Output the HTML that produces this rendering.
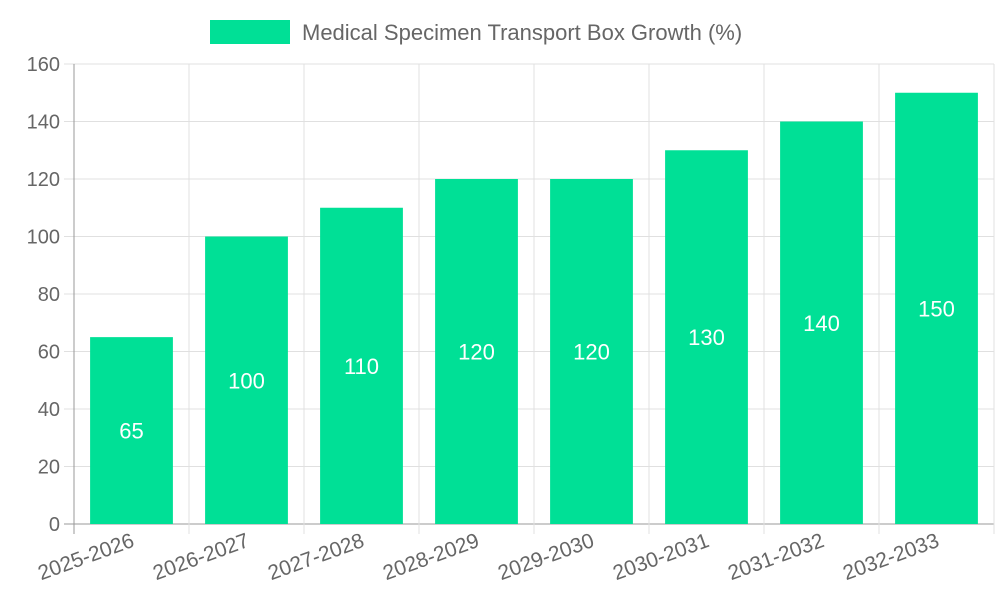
<!DOCTYPE html>
<html><head><meta charset="utf-8"><style>
body{margin:0;background:#fff;}
svg{font-family:"Liberation Sans",sans-serif;display:block}
</style></head><body>
<svg id="chart" width="1000" height="600">
<g id="legend">
<rect x="210" y="20" width="80" height="24" fill="#00e096"></rect>
<text x="302" y="40" font-size="22" fill="#666">Medical Specimen Transport Box Growth (%)</text>
</g>
<g id="grid"></g><g id="bars"></g><g id="labels"></g>
</svg>
<script>
const categories=["2025-2026","2026-2027","2027-2028","2028-2029","2029-2030","2030-2031","2031-2032","2032-2033"];
const values=[65,100,110,120,120,130,140,150];
const yTicks=[0,20,40,60,80,100,120,140,160];
const NS="http://www.w3.org/2000/svg";
const L=74,R=994,T=64,B=524,yMax=160;
const bw=(R-L)/categories.length;
const y=v=>B-(v/yMax)*(B-T);
const x=i=>L+bw*i;
function mk(tag,attrs,parent,text){const e=document.createElementNS(NS,tag);for(const k in attrs)e.setAttribute(k,attrs[k]);if(text!==undefined)e.textContent=text;parent.appendChild(e);return e;}
const g=document.getElementById('grid'),bg=document.getElementById('bars'),lg=document.getElementById('labels');
yTicks.forEach(t=>{
 const l=mk('line',{x1:L-10,x2:R,y1:y(t),y2:y(t),stroke:t===0?'#999':'#e0e0e0','stroke-width':1},g);
 
 
 const tx=mk('text',{x:L-14,y:y(t)+7,'text-anchor':'end','font-size':20,fill:'#666'},g,String(t));
 
 
});
for(let i=0;i<=categories.length;i++){
 const l=mk('line',{x1:x(i),x2:x(i),y1:T,y2:B+10,stroke:i===0?'#999':'#e0e0e0','stroke-width':1},g);
 
 
}
categories.forEach((c,i)=>{
 const cx=x(i)+bw/2,w=bw*0.72;
 const r=mk('rect',{x:cx-w/2,y:y(values[i]),width:w,height:B-y(values[i]),fill:'#00e096'},bg);
 
 
 const v=mk('text',{x:cx,y:(y(values[i])+B)/2+8,'text-anchor':'middle','font-size':22,fill:'#fff'},lg,String(values[i]));
 
 
 const t=mk('text',{x:cx+4,y:546,'text-anchor':'end','font-size':21,fill:'#666',transform:`rotate(-20 ${cx+4} 546)`},lg,c);
 
 
});
</script>
</body></html>
